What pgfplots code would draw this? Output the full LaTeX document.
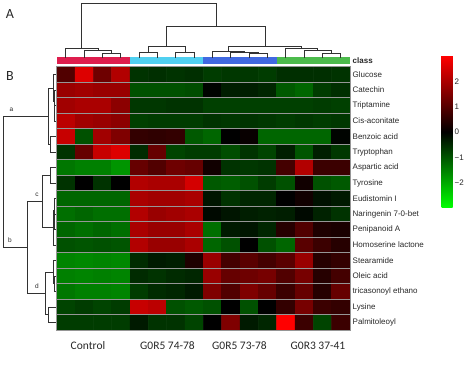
\documentclass[border=0pt]{standalone}
\usepackage{fontspec}
\setmainfont{Liberation Sans}
\newfontfamily\carlito{Carlito}
\usepackage{pgfplots}
\pgfplotsset{compat=1.18}
\definecolor{ccrim}{RGB}{222,30,78}
\definecolor{ccyan}{RGB}{80,208,240}
\definecolor{cblue}{RGB}{65,105,225}
\definecolor{cgreen}{RGB}{76,187,76}
\definecolor{dend}{RGB}{50,50,50}
\definecolor{gridc}{RGB}{150,150,150}
\definecolor{txt}{RGB}{40,40,40}
\tikzset{dl/.style={dend, line width=0.9pt, solid, mark=none}}
\begin{document}
\begin{tikzpicture}[x=1pt,y=1pt]
\useasboundingbox (0,0) rectangle (474,-371);
% ---------- heatmap ----------
\begin{axis}[at={(56.7pt,-66.7pt)}, anchor=north west, scale only axis,
  width=293.3pt, height=263.5pt,
  xmin=-0.5, xmax=15.5, ymin=-0.5, ymax=16.5, y dir=reverse,
  axis on top, xtick=\empty,
  minor xtick={0.5,1.5,...,14.5}, minor ytick={0.5,1.5,...,15.5},
  grid=minor, minor grid style={gridc, line width=0.9pt},
  axis line style={gridc, line width=0.9pt},
  major tick length=0pt, minor tick length=0pt,
  ytick={0,...,16}, yticklabel pos=right,
  yticklabels={Glucose,Catechin,Triptamine,Cis-aconitate,Benzoic acid,Tryptophan,Aspartic acid,Tyrosine,Eudistomin I,Naringenin 7-0-bet,Penipanoid A,Homoserine lactone,Stearamide,Oleic acid,tricasonoyl ethano,Lysine,Palmitoleoyl},
  yticklabel style={font=\fontsize{8}{9.6}\selectfont, text=txt, anchor=west, inner sep=2.5pt},
  colormap={rg}{rgb255=(0,255,0) rgb255=(0,0,0) rgb255=(255,0,0)},
  point meta min=-3, point meta max=3,
  colorbar,
  colorbar style={at={(parent axis.north east)}, anchor=north west,
    xshift=83pt, yshift=10.7pt, width=11pt, height=152pt, scale only axis,
    ytick={-2,-1,0,1,2}, yticklabels={−2,−1,0,1,2},
    yticklabel style={font=\fontsize{8}{9.6}\selectfont, text=txt, inner sep=2pt},
    axis line style={draw=none}, major tick length=0pt},
]
\addplot[matrix plot*, mesh/cols=16, point meta=explicit] table[meta=c, row sep=\\] {
x y c\\
0 0 0.95\\ 1 0 2.6\\ 2 0 1.3\\ 3 0 2.1\\ 4 0 -0.6\\ 5 0 -0.55\\ 6 0 -0.6\\ 7 0 -0.55\\ 8 0 -0.7\\ 9 0 -0.65\\ 10 0 -0.65\\ 11 0 -0.7\\ 12 0 -0.55\\ 13 0 -0.55\\ 14 0 -0.55\\ 15 0 -0.6\\
0 1 1.8\\ 1 1 1.9\\ 2 1 1.8\\ 3 1 1.8\\ 4 1 -0.95\\ 5 1 -0.95\\ 6 1 -0.95\\ 7 1 -0.9\\ 8 1 -0.05\\ 9 1 -0.35\\ 10 1 -0.35\\ 11 1 -0.45\\ 12 1 -1.05\\ 13 1 -1.2\\ 14 1 -0.7\\ 15 1 -0.55\\
0 2 1.9\\ 1 2 2.0\\ 2 2 2.0\\ 3 2 1.65\\ 4 2 -0.65\\ 5 2 -0.65\\ 6 2 -0.6\\ 7 2 -0.6\\ 8 2 -0.75\\ 9 2 -0.75\\ 10 2 -0.75\\ 11 2 -0.75\\ 12 2 -0.75\\ 13 2 -0.75\\ 14 2 -0.7\\ 15 2 -0.75\\
0 3 2.2\\ 1 3 1.9\\ 2 3 1.8\\ 3 3 1.65\\ 4 3 -0.75\\ 5 3 -0.7\\ 6 3 -0.7\\ 7 3 -0.7\\ 8 3 -0.6\\ 9 3 -0.65\\ 10 3 -0.6\\ 11 3 -0.65\\ 12 3 -0.7\\ 13 3 -0.65\\ 14 3 -0.7\\ 15 3 -0.65\\
0 4 2.35\\ 1 4 -0.95\\ 2 4 1.9\\ 3 4 1.5\\ 4 4 0.6\\ 5 4 0.55\\ 6 4 0.6\\ 7 4 -1.05\\ 8 4 -1.2\\ 9 4 0\\ 10 4 0.1\\ 11 4 -1.2\\ 12 4 -1.2\\ 13 4 -1.2\\ 14 4 -1.2\\ 15 4 -0.05\\
0 5 -0.6\\ 1 5 1.2\\ 2 5 2.35\\ 3 5 2.6\\ 4 5 -0.5\\ 5 5 1.2\\ 6 5 -0.8\\ 7 5 -0.7\\ 8 5 -0.7\\ 9 5 -0.9\\ 10 5 -0.6\\ 11 5 -0.8\\ 12 5 -0.35\\ 13 5 -1.0\\ 14 5 -0.35\\ 15 5 -0.65\\
0 6 -1.4\\ 1 6 -1.5\\ 2 6 -1.5\\ 3 6 -1.75\\ 4 6 1.2\\ 5 6 0.95\\ 6 6 1.3\\ 7 6 1.2\\ 8 6 0.2\\ 9 6 -0.6\\ 10 6 -0.65\\ 11 6 -0.6\\ 12 6 0.8\\ 13 6 2.1\\ 14 6 0.7\\ 15 6 0.7\\
0 7 -0.6\\ 1 7 0\\ 2 7 -0.6\\ 3 7 0\\ 4 7 2.1\\ 5 7 2.0\\ 6 7 2.0\\ 7 7 2.5\\ 8 7 -1.05\\ 9 7 -1.1\\ 10 7 -0.95\\ 11 7 -0.7\\ 12 7 -0.95\\ 13 7 0.2\\ 14 7 -0.95\\ 15 7 -1.05\\
0 8 -1.2\\ 1 8 -1.2\\ 2 8 -1.2\\ 3 8 -1.2\\ 4 8 2.0\\ 5 8 1.9\\ 6 8 1.9\\ 7 8 2.0\\ 8 8 -0.25\\ 9 8 -0.6\\ 10 8 -0.45\\ 11 8 -0.45\\ 12 8 0\\ 13 8 0.2\\ 14 8 -0.2\\ 15 8 -0.3\\
0 9 -1.3\\ 1 9 -1.2\\ 2 9 -1.3\\ 3 9 -1.3\\ 4 9 2.1\\ 5 9 1.8\\ 6 9 1.9\\ 7 9 2.0\\ 8 9 -0.1\\ 9 9 -0.25\\ 10 9 -0.35\\ 11 9 -0.4\\ 12 9 -0.35\\ 13 9 -0.1\\ 14 9 -0.4\\ 15 9 -0.6\\
0 10 -1.2\\ 1 10 -1.3\\ 2 10 -1.2\\ 3 10 -1.3\\ 4 10 2.0\\ 5 10 1.8\\ 6 10 1.8\\ 7 10 2.0\\ 8 10 -1.3\\ 9 10 -0.3\\ 10 10 -0.25\\ 11 10 -0.45\\ 12 10 0.45\\ 13 10 0.95\\ 14 10 0.35\\ 15 10 0.3\\
0 11 -0.95\\ 1 11 -1.0\\ 2 11 -0.95\\ 3 11 -1.0\\ 4 11 2.1\\ 5 11 1.8\\ 6 11 1.8\\ 7 11 2.0\\ 8 11 -1.2\\ 9 11 -0.95\\ 10 11 0\\ 11 11 -0.95\\ 12 11 -1.2\\ 13 11 1.05\\ 14 11 0.7\\ 15 11 0.45\\
0 12 -1.55\\ 1 12 -1.6\\ 2 12 -1.55\\ 3 12 -1.6\\ 4 12 -0.5\\ 5 12 -0.3\\ 6 12 -0.35\\ 7 12 0.35\\ 8 12 1.8\\ 9 12 0.8\\ 10 12 1.05\\ 11 12 0.8\\ 12 12 1.05\\ 13 12 1.8\\ 14 12 0.45\\ 15 12 0.6\\
0 13 -1.5\\ 1 13 -1.55\\ 2 13 -1.5\\ 3 13 -1.55\\ 4 13 -0.5\\ 5 13 -0.6\\ 6 13 -0.5\\ 7 13 -0.45\\ 8 13 1.8\\ 9 13 1.2\\ 10 13 1.3\\ 11 13 1.4\\ 12 13 0.95\\ 13 13 1.4\\ 14 13 0.45\\ 15 13 0.8\\
0 14 -1.4\\ 1 14 -1.5\\ 2 14 -1.5\\ 3 14 -1.55\\ 4 14 -0.7\\ 5 14 -0.5\\ 6 14 -0.45\\ 7 14 -0.3\\ 8 14 1.5\\ 9 14 0.95\\ 10 14 1.5\\ 11 14 1.2\\ 12 14 0.7\\ 13 14 1.2\\ 14 14 0.45\\ 15 14 1.2\\
0 15 -0.8\\ 1 15 -0.7\\ 2 15 -0.8\\ 3 15 -0.7\\ 4 15 2.35\\ 5 15 2.2\\ 6 15 -0.95\\ 7 15 -1.05\\ 8 15 -0.95\\ 9 15 0\\ 10 15 -0.95\\ 11 15 0\\ 12 15 0.6\\ 13 15 1.4\\ 14 15 0.7\\ 15 15 0.6\\
0 16 -0.7\\ 1 16 -0.7\\ 2 16 -0.7\\ 3 16 -0.7\\ 4 16 -0.3\\ 5 16 -0.6\\ 6 16 -0.6\\ 7 16 -0.8\\ 8 16 0\\ 9 16 1.5\\ 10 16 -0.3\\ 11 16 -0.45\\ 12 16 3.0\\ 13 16 0.7\\ 14 16 -0.8\\ 15 16 0.7\\
};
\end{axis}
% ---------- class bar ----------
\begin{axis}[at={(56.7pt,-57.5pt)}, anchor=north west, scale only axis,
  width=293.3pt, height=7pt, xmin=-0.5, xmax=15.5, ymin=0, ymax=1,
  axis on top, xtick=\empty, ytick=\empty, minor xtick={0.5,1.5,...,14.5},
  grid=minor, minor grid style={gray!45, line width=0.6pt},
  axis line style={draw=none}, minor tick length=0pt]
\addplot[fill=ccrim, draw=none] coordinates {(-0.5,0) (3.5,0) (3.5,1) (-0.5,1)} -- cycle;
\addplot[fill=ccyan, draw=none] coordinates {(3.5,0) (7.5,0) (7.5,1) (3.5,1)} -- cycle;
\addplot[fill=cblue, draw=none] coordinates {(7.5,0) (11.5,0) (11.5,1) (7.5,1)} -- cycle;
\addplot[fill=cgreen, draw=none] coordinates {(11.5,0) (15.5,0) (15.5,1) (11.5,1)} -- cycle;
\end{axis}
% ---------- dendrograms and texts ----------
\begin{axis}[at={(0pt,0pt)}, anchor=north west, scale only axis,
  width=474pt, height=371pt, xmin=0, xmax=474, ymin=0, ymax=371,
  y dir=reverse, hide axis, clip=false]
% column dendrogram
\addplot[dl] coordinates {(102.5,57.5)(102.5,53.3)(120.9,53.3)(120.9,57.5)};
\addplot[dl] coordinates {(84.2,57.5)(84.2,50.5)(111.7,50.5)(111.7,53.3)};
\addplot[dl] coordinates {(65.9,57.5)(65.9,48.3)(97.95,48.3)(97.95,50.5)};
\addplot[dl] coordinates {(139.2,57.5)(139.2,52.7)(157.5,52.7)(157.5,57.5)};
\addplot[dl] coordinates {(175.8,57.5)(175.8,52.7)(194.2,52.7)(194.2,57.5)};
\addplot[dl] coordinates {(148.35,52.7)(148.35,46.7)(185,46.7)(185,52.7)};
\addplot[dl] coordinates {(249.2,57.5)(249.2,53.3)(267.5,53.3)(267.5,57.5)};
\addplot[dl] coordinates {(230.8,57.5)(230.8,52.3)(258.35,52.3)(258.35,53.3)};
\addplot[dl] coordinates {(212.5,57.5)(212.5,51.3)(244.6,51.3)(244.6,52.3)};
\addplot[dl] coordinates {(322.5,57.5)(322.5,53)(340.8,53)(340.8,57.5)};
\addplot[dl] coordinates {(304.2,57.5)(304.2,50.7)(331.65,50.7)(331.65,53)};
\addplot[dl] coordinates {(285.8,57.5)(285.8,48.3)(317.9,48.3)(317.9,50.7)};
\addplot[dl] coordinates {(228.55,51.3)(228.55,46.7)(301.85,46.7)(301.85,48.3)};
\addplot[dl] coordinates {(166.7,46.7)(166.7,26.7)(265.2,26.7)(265.2,46.7)};
\addplot[dl] coordinates {(81.9,48.3)(81.9,3.5)(215.95,3.5)(215.95,26.7)};
% row dendrogram
\addplot[dl] coordinates {(55.5,105.45)(54.5,105.45)(54.5,120.95)(55.5,120.95)};
\addplot[dl] coordinates {(55.5,89.95)(54,89.95)(54,113.2)(54.5,113.2)};
\addplot[dl] coordinates {(55.5,74.45)(53,74.45)(53,101.6)(54,101.6)};
\addplot[dl] coordinates {(55.5,136.45)(50,136.45)(50,151.95)(55.5,151.95)};
\addplot[dl] coordinates {(53,88.0)(48.3,88.0)(48.3,144.2)(50,144.2)};
\addplot[dl] coordinates {(55.5,167.45)(50,167.45)(50,182.95)(55.5,182.95)};
\addplot[dl] coordinates {(55.5,213.95)(54.5,213.95)(54.5,229.45)(55.5,229.45)};
\addplot[dl] coordinates {(55.5,198.45)(54,198.45)(54,221.7)(54.5,221.7)};
\addplot[dl] coordinates {(54,210.1)(53,210.1)(53,244.95)(55.5,244.95)};
\addplot[dl] coordinates {(50,175.2)(42,175.2)(42,227.5)(53,227.5)};
\addplot[dl] coordinates {(55.5,275.95)(54,275.95)(54,291.45)(55.5,291.45)};
\addplot[dl] coordinates {(55.5,260.45)(53,260.45)(53,283.7)(54,283.7)};
\addplot[dl] coordinates {(55.5,306.95)(48.3,306.95)(48.3,322.45)(55.5,322.45)};
\addplot[dl] coordinates {(53,272.1)(45,272.1)(45,314.7)(48.3,314.7)};
\addplot[dl] coordinates {(42,201.35)(27,201.35)(27,293.4)(45,293.4)};
\addplot[dl] coordinates {(48.3,116.1)(3,116.1)(3,247.4)(27,247.4)};
% texts
\node[anchor=west, inner sep=2.5pt, text=txt, font=\bfseries\fontsize{8}{9.6}\selectfont] at (axis cs:350,61) {class};
\node[font=\carlito\fontsize{14}{16}\selectfont, text=txt] at (axis cs:10,14) {A};
\node[font=\carlito\fontsize{14}{16}\selectfont, text=txt] at (axis cs:10,76.5) {B};
\node[font=\fontsize{6.5}{7}\selectfont, text=txt] at (axis cs:11.5,110) {a};
\node[font=\fontsize{6.5}{7}\selectfont, text=txt] at (axis cs:10,240) {b};
\node[font=\fontsize{6.5}{7}\selectfont, text=txt] at (axis cs:37,194.5) {c};
\node[font=\fontsize{6.5}{7}\selectfont, text=txt] at (axis cs:37,286.5) {d};
\node[font=\carlito\fontsize{11.5}{13}\selectfont, text=txt] at (axis cs:88,346) {Control};
\node[font=\carlito\fontsize{11.5}{13}\selectfont, text=txt] at (axis cs:167.5,346) {G0R5 74-78};
\node[font=\carlito\fontsize{11.5}{13}\selectfont, text=txt] at (axis cs:239.5,346) {G0R5 73-78};
\node[font=\carlito\fontsize{11.5}{13}\selectfont, text=txt] at (axis cs:318,346) {G0R3 37-41};
\end{axis}
\end{tikzpicture}
\end{document}
